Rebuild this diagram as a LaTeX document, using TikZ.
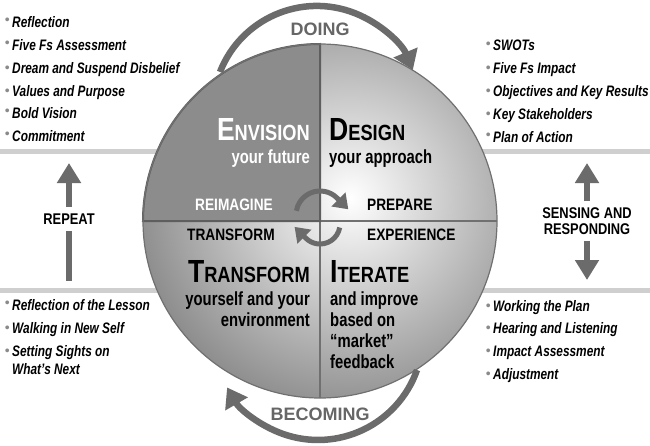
\documentclass[tikz,border=0pt]{standalone}
\usepackage{fontspec}
\setmainfont{Liberation Sans}
\newfontfamily\condfont{Liberation Sans}[FakeStretch=0.83]
\newfontfamily\narrowfont{Liberation Sans}[FakeStretch=0.78]
\usetikzlibrary{arrows.meta}
\definecolor{arrowgray}{HTML}{6B6B6B}
\definecolor{modegray}{HTML}{666666}
\definecolor{bargray}{HTML}{CFCFCF}
\definecolor{rimgray}{HTML}{808080}
\definecolor{rimline}{HTML}{707070}
\definecolor{quadgray}{HTML}{8C8C8C}
\definecolor{quadedge}{HTML}{5E5E5E}
\definecolor{bulletgray}{HTML}{8A8A8A}
\newcommand\initial[1]{{\fontsize{32}{32}\selectfont#1}}

\begin{document}
\begin{tikzpicture}[x=1pt,y=-1pt,line width=0.4pt,
  every node/.style={inner sep=0pt},
  item/.style={anchor=base west,font=\narrowfont\bfseries\itshape\fontsize{15.2}{15.2}\selectfont,
    label={[text=bulletgray,font=\fontsize{14}{14}\selectfont,label distance=2pt]left:\textbullet}},
  itemcont/.style={anchor=base west,font=\narrowfont\bfseries\itshape\fontsize{15.2}{15.2}\selectfont},
  heading/.style={font=\condfont\bfseries\fontsize{22}{22}\selectfont},
  subhead/.style={font=\narrowfont\bfseries\fontsize{19}{21.3}\selectfont},
  phase/.style={anchor=base west,font=\condfont\bfseries\fontsize{16.5}{16.5}\selectfont},
  mode/.style={anchor=base,text=modegray,font=\bfseries\fontsize{18}{18}\selectfont},
  side/.style={align=center,outer sep=6.5pt,font=\condfont\bfseries\fontsize{15.5}{16}\selectfont},
  bigarrow/.style={arrowgray,line width=6.5pt,-{Triangle[length=19pt,width=25pt]}},
  smallarrow/.style={arrowgray,line width=5pt,-{Triangle[length=14pt,width=19pt]}},
  shaft/.style={arrowgray,line width=6pt},
  vertarrow/.style={shaft,-{Triangle[length=20pt,width=23pt]}}]
\useasboundingbox (0,0) rectangle (650,445);
% separator bars
\fill[bargray] (0,148.5) rectangle (650,153.5);
\fill[bargray] (0,287.5) rectangle (650,292.5);
% the wheel
\coordinate (C) at (320,221);
\coordinate (ctop) at (320,44);
\coordinate (cbottom) at (320,398);
\coordinate (cleft) at (143,221);
\coordinate (cright) at (497,221);
\begin{scope}
\clip (C) circle[radius=177];
\shade[inner color=white,outer color=rimgray] (350,198) circle[radius=240];
\end{scope}
\draw[rimline,line width=1.2pt] (ctop) -- (cbottom);
\draw[rimline,line width=1.2pt] (cleft) -- (cright);
\draw[quadedge,line width=2pt,fill=quadgray] (C) -- (cleft) arc[start angle=180,end angle=270,radius=177] -- cycle;
\draw[rimline,line width=1.2pt] (C) circle[radius=177];
% cycle arrows
\coordinate (doingstart) at (220,72);
\coordinate (becomingstart) at (417,370);
\coordinate (upperstart) at (296.4,210.8);
\coordinate (lowerstart) at (339.7,227.5);
\draw[bigarrow] (doingstart) arc[start angle=201.4,end angle=337.4,radius=104];
\draw[bigarrow] (becomingstart) arc[start angle=19.5,end angle=150,radius=105];
\draw[smallarrow] (upperstart) arc[start angle=190,end angle=315,radius=24] -- ++(45:16);
\draw[smallarrow] (lowerstart) arc[start angle=10,end angle=135,radius=20] -- ++(225:16);
\node[mode] (doing) at (320,35) {DOING};
\node[mode] (becoming) at (320,420) {BECOMING};
% quadrant texts
\node[heading,anchor=base east,text=white] (envision) at (310,140) {\initial{E}NVISION};
\node[subhead,anchor=base east,text=white] (envisionsub) at (310,163) {your future};
\node[heading,anchor=base west] (design) at (329,140) {\initial{D}ESIGN};
\node[subhead,anchor=base west] (designsub) at (329,163) {your approach};
\node[phase,text=white] (reimagine) at (195,210) {REIMAGINE};
\node[phase] (prepare) at (367,210) {PREPARE};
\node[phase] (transformstep) at (187,240) {TRANSFORM};
\node[phase] (experience) at (367,240) {EXPERIENCE};
\node[heading,anchor=base east] (transform) at (310,282) {\initial{T}RANSFORM};
\node[subhead,anchor=base east,align=right] (transformsub) at (310,326.3) {yourself and your\\environment};
\node[heading,anchor=base west] (iterate) at (330,282) {\initial{I}TERATE};
\node[subhead,anchor=base west,align=left] (iteratesub) at (330,368.9) {and improve\\based on\\“market”\\feedback};
% side arrows
\node[side] (repeat) at (69,219) {REPEAT};
\coordinate (repeatfoot) at (69,281);
\coordinate (repeathead) at (69,163);
\draw[shaft] (repeatfoot) -- (repeat);
\draw[vertarrow] (repeat) -- (repeathead);
\node[side] (sensing) at (587,221) {SENSING AND\\RESPONDING};
\coordinate (sensinghead) at (587,163);
\coordinate (respondinghead) at (587,280);
\draw[vertarrow] (sensing) -- (sensinghead);
\draw[vertarrow] (sensing) -- (respondinghead);
% lists
\node[item] (env1) at (12,27) {Reflection};
\node[item] (env2) at (12,50) {Five Fs Assessment};
\node[item] (env3) at (12,73) {Dream and Suspend Disbelief};
\node[item] (env4) at (12,96) {Values and Purpose};
\node[item] (env5) at (12,118) {Bold Vision};
\node[item] (env6) at (12,141) {Commitment};
\node[item] (des1) at (493,50) {SWOTs};
\node[item] (des2) at (493,73) {Five Fs Impact};
\node[item] (des3) at (493,96) {Objectives and Key Results};
\node[item] (des4) at (493,119) {Key Stakeholders};
\node[item] (des5) at (493,142) {Plan of Action};
\node[item] (tra1) at (12,310) {Reflection of the Lesson};
\node[item] (tra2) at (12,333) {Walking in New Self};
\node[item] (tra3) at (12,356) {Setting Sights on};
\node[itemcont] (tra3b) at (12,374) {What’s Next};
\node[item] (ite1) at (493,311) {Working the Plan};
\node[item] (ite2) at (493,333) {Hearing and Listening};
\node[item] (ite3) at (493,356) {Impact Assessment};
\node[item] (ite4) at (493,379) {Adjustment};
\end{tikzpicture}
\end{document}
